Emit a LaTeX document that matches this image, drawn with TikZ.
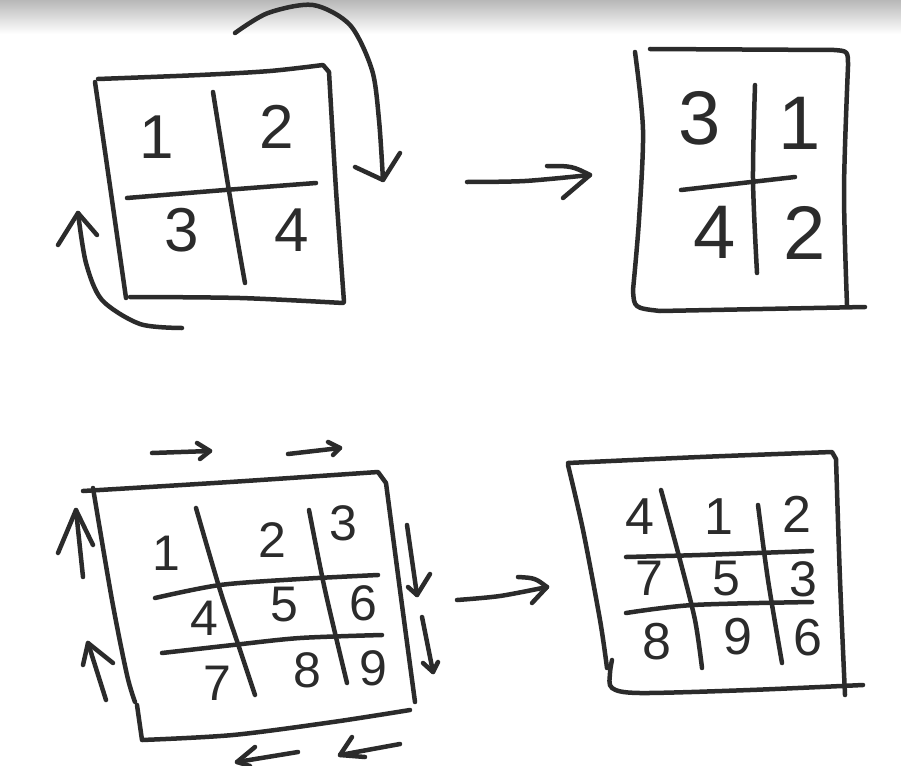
\documentclass[tikz,border=0pt]{standalone}
\usepackage{fontspec}
\setmainfont{Liberation Sans}
\definecolor{ink}{HTML}{2B2B2B}
\begin{document}
\begin{tikzpicture}[x=1pt,y=-1pt,
  pen/.style={line width=4.5pt, draw=ink, line cap=round, line join=round},
  digA/.style={font=\fontsize{62}{62}\selectfont, text=ink, inner sep=0pt},
  digB/.style={font=\fontsize{76}{76}\selectfont, text=ink, inner sep=0pt},
  digC/.style={font=\fontsize{50}{50}\selectfont, text=ink, inner sep=0pt},
  digD/.style={font=\fontsize{52}{52}\selectfont, text=ink, inner sep=0pt}]
\useasboundingbox (0,0) rectangle (901,765);
\fill[white] (0,0) rectangle (901,765);
\shade[top color=black!28, bottom color=white] (0,0) rectangle (901,34);

% ---------- grid 1 (2x2) ----------
\draw[pen] plot[smooth] coordinates {(98,79) (200,75) (270,71) (323,65)} -- (329,72)
  plot[smooth] coordinates {(329,72) (336,190) (344,302)};
\draw[pen] plot[smooth] coordinates {(95,82) (112,200) (126,298)};
\draw[pen] plot[smooth] coordinates {(130,297) (240,298) (343,303)};
\draw[pen] plot[smooth] coordinates {(213,92) (228,185) (240,255) (245,283)};
\draw[pen] plot[smooth] coordinates {(127,198) (225,190) (316,183)};
\node[digA] (a1) at (157,137) {1};
\node[digA] (a2) at (277,127) {2};
\node[digA] (a3) at (182,230) {3};
\node[digA] (a4) at (292,230) {4};
% rotation arrows
\draw[pen] plot[smooth] coordinates {(235,33) (268,13) (313,5) (350,25) (372,70) (379,120) (383,180)};
\draw[pen] (355,167) -- (383,180) -- (400,153);
\draw[pen] plot[smooth] coordinates {(182,328) (140,324) (102,300) (86,263) (78,213)};
\draw[pen] (58,245) -- (78,213) -- (97,235);

% middle arrow top
\draw[pen] plot[smooth] coordinates {(467,182) (525,181) (590,175)};
\draw[pen] (547,166) .. controls (572,166) .. (590,175) -- (563,198);

% ---------- grid 2 (2x2 result) ----------
\draw[pen] plot[smooth] coordinates {(635,52) (643,130) (639,220) (633,290)}
  .. controls (634,308) .. (660,311) -- (865,307);
\draw[pen] (650,49) -- (834,50) .. controls (848,51) .. (848,66)
  plot[smooth] coordinates {(848,66) (844,190) (847,305)};
\draw[pen] plot[smooth] coordinates {(755,85) (753,180) (757,273)};
\draw[pen] (681,190) -- (795,177);
\node[digB] (b3) at (700,118) {3};
\node[digB] (b1) at (800,123) {1};
\node[digB] (b4) at (715,232) {4};
\node[digB] (b2) at (805,233) {2};

% ---------- grid 3 (3x3) ----------
\draw[pen] plot[smooth] coordinates {(83,491) (230,482) (378,472)} -- (386,483)
  plot[smooth] coordinates {(386,483) (400,590) (415,702)};
\draw[pen] plot[smooth] coordinates {(93,488) (112,600) (127,675) (135,702)};
\draw[pen] (137,705) -- (142,740)
  plot[smooth] coordinates {(142,740) (233,735) (333,722) (410,710)};
\draw[pen] plot[smooth] coordinates {(196,508) (220,590) (240,650) (255,695)};
\draw[pen] plot[smooth] coordinates {(309,510) (325,590) (347,683)};
\draw[pen] plot[smooth] coordinates {(155,598) (220,585) (300,579) (378,575)};
\draw[pen] plot[smooth] coordinates {(162,653) (233,645) (300,638) (382,635)};
\node[digC] (c1) at (166,553) {1};
\node[digC] (c2) at (272,540) {2};
\node[digC] (c3) at (343,523) {3};
\node[digC] (c4) at (204,618) {4};
\node[digC] (c5) at (284,605) {5};
\node[digC] (c6) at (363,603) {6};
\node[digC] (c7) at (217,683) {7};
\node[digC] (c8) at (307,670) {8};
\node[digC] (c9) at (373,668) {9};
% shift arrows
\draw[pen] (152,453) -- (210,451); \draw[pen] (197,443) -- (210,451) -- (200,459);
\draw[pen] (288,454) -- (340,448); \draw[pen] (328,442) -- (340,448) -- (333,455);
\draw[pen] (83,577) -- (76,510); \draw[pen] (58,553) -- (76,510) -- (93,545);
\draw[pen] (106,700) -- (88,643); \draw[pen] (83,665) -- (88,643) -- (113,663);
\draw[pen] (407,525) -- (417,595); \draw[pen] (408,587) -- (417,595) -- (430,574);
\draw[pen] (422,617) -- (433,672); \draw[pen] (423,663) -- (433,672) -- (438,662);
\draw[pen] (298,752) -- (237,762); \draw[pen] (255,747) -- (237,762) -- (250,766);
\draw[pen] (400,744) -- (340,755); \draw[pen] (352,737) -- (340,755) -- (365,757);

% middle arrow bottom
\draw[pen] plot[smooth] coordinates {(457,600) (500,596) (547,587)};
\draw[pen] (518,577) .. controls (535,578) .. (547,587) -- (532,603);

% ---------- grid 4 (3x3 result) ----------
\draw[pen] plot[smooth] coordinates {(568,463) (700,457) (832,452)} -- (836,459)
  plot[smooth] coordinates {(836,459) (840,580) (845,695)};
\draw[pen] plot[smooth] coordinates {(568,465) (583,530) (600,620) (607,668)};
\draw[pen] plot[smooth] coordinates {(612,660) (610,673) (612,688) (640,693) (750,690) (863,685)};
\draw[pen] plot[smooth] coordinates {(661,490) (680,560) (695,620) (702,668)};
\draw[pen] plot[smooth] coordinates {(758,505) (768,580) (782,663)};
\draw[pen] plot[smooth] coordinates {(626,557) (700,555) (812,551)};
\draw[pen] plot[smooth] coordinates {(626,613) (693,605) (812,602)};
\node[digD] (d4) at (640,517) {4};
\node[digD] (d1) at (719,517) {1};
\node[digD] (d2) at (797,514) {2};
\node[digC] (d7) at (649,578) {7};
\node[digC] (d5) at (726,579) {5};
\node[digC] (d3) at (803,579) {3};
\node[digD] (d8) at (657,642) {8};
\node[digD] (d9) at (738,637) {9};
\node[digD] (d6) at (808,638) {6};
\end{tikzpicture}
\end{document}
